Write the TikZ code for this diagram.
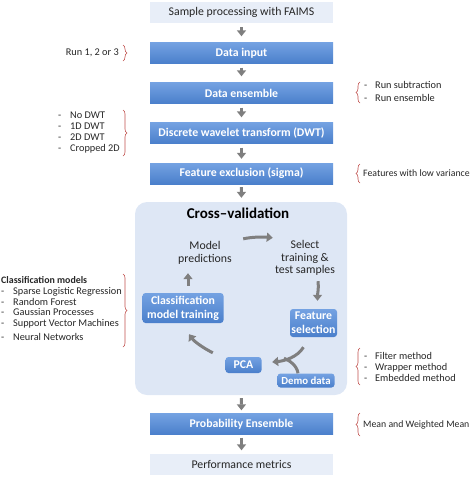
\documentclass[tikz,border=0pt]{standalone}
\usepackage{fontspec}
\setmainfont{Carlito}
\usetikzlibrary{arrows.meta,decorations.pathreplacing}

\definecolor{boxlight}{HTML}{E8EEF8}
\definecolor{cvfill}{HTML}{DEE7F5}
\definecolor{boxtop}{HTML}{74A2E2}
\definecolor{boxbot}{HTML}{4A7FCB}
\definecolor{flowgray}{HTML}{7F7F7F}
\definecolor{bracered}{HTML}{C0504D}
\definecolor{txt}{HTML}{262626}

\tikzset{
  mainbox/.style={minimum width=183pt, minimum height=21pt, inner sep=0pt, font=\fontsize{11.8}{13}\selectfont},
  lightbox/.style={mainbox, fill=boxlight, text=txt},
  bluebox/.style={mainbox, top color=boxtop, bottom color=boxbot, text=white, font=\fontsize{11.8}{13}\selectfont\bfseries},
  smallbox/.style={rounded corners=3pt, top color=boxtop, bottom color=boxbot, text=white, inner sep=0pt, align=center, font=\fontsize{11.8}{13.8}\selectfont\bfseries},
  flow/.style={draw=flowgray, line width=3pt, -{Triangle[length=6pt,width=9pt]}},
  brace/.style={draw=bracered, line width=0.6pt, decorate, decoration={brace, amplitude=4pt}},
  side/.style={inner sep=0pt, text=txt, font=\fontsize{10.3}{12}\selectfont, text height=7.5pt, text depth=2.5pt},
  cvtext/.style={inner sep=0pt, text=txt, align=center, font=\fontsize{11.8}{12.8}\selectfont},
}

\begin{document}
\begin{tikzpicture}[x=1pt, y=-1pt]
        \useasboundingbox (0,0) rectangle (474,477);
        % main pipeline
        \node[lightbox] (sample)   at (241.5, 12.5) {Sample processing with FAIMS};
        \node[bluebox]  (input)    at (241.5, 53)   {Data input};
        \node[bluebox]  (ensemble) at (241.5, 93)   {Data ensemble};
        \node[bluebox]  (dwt)      at (241.5, 133)  {Discrete wavelet transform (DWT)};
        \node[bluebox]  (excl)     at (241.5, 173.5) {Feature exclusion (sigma)};
        \node[fill=cvfill, rounded corners=12pt, minimum width=212pt, minimum height=193pt] (cv) at (241, 298.5) {};
        \node[bluebox]  (prob)     at (241.5, 424)  {Probability Ensemble};
        \node[lightbox] (perf)     at (241.5, 464)  {Performance metrics};
        % arrows
        \draw[flow, shorten <=4pt, shorten >=6pt] (sample) -- (input);
        \draw[flow, shorten <=4pt, shorten >=6pt] (input) -- (ensemble);
        \draw[flow, shorten <=4pt, shorten >=5pt] (ensemble) -- (dwt);
        \draw[flow, shorten <=4pt, shorten >=4pt] (dwt) -- (excl);
        \draw[flow, shorten <=3pt, shorten >=4pt] (excl) -- (cv);
        \draw[flow, shorten <=3pt, shorten >=3pt] (cv) -- (prob);
        \draw[flow, shorten <=3pt, shorten >=3pt] (prob) -- (perf);

        % cross-validation loop
        \node[font=\fontsize{15}{17}\selectfont\bfseries, text=black] (cvtitle) at (238, 213) {Cross--validation};
        \node[cvtext, minimum width=62pt, minimum height=26pt] (pred) at (205, 253) {Model\\predictions};
        \node[cvtext, minimum width=72pt, minimum height=40pt] (select) at (305, 258) {Select\\training \&\\test samples};
        \node[smallbox, minimum width=47pt, minimum height=28pt] (feat) at (313.5, 323) {Feature\\selection};
        \node[smallbox, minimum width=81pt, minimum height=30pt] (train) at (183, 308) {Classification\\model training};
        \node[smallbox, minimum width=36pt, minimum height=16pt] (pca) at (243.5, 365) {PCA};
        \node[smallbox, minimum width=57pt, minimum height=14pt, font=\fontsize{10.8}{12}\selectfont\bfseries] (demo) at (306, 380.5) {Demo data};
        \draw[flow] ([xshift=7pt, yshift=1pt]pred.north east) .. controls +(10,-2) and +(-10,-1) .. ([xshift=4pt]select.north west);
        \draw[flow] ([xshift=13pt, yshift=-3pt]select.south) .. controls +(1,7) and +(0,-7) .. ([xshift=4pt, yshift=8pt]feat.north);
        \draw[draw=flowgray, line width=3pt] ([xshift=-8pt]demo.north) .. controls +(-1,-8) and +(5,2) .. ([xshift=-29.5pt, yshift=-21pt]feat.south);
        \draw[flow] ([xshift=-10pt, yshift=-10pt]feat.south) .. controls +(-6,10) and +(12,-1) .. ([xshift=10.5pt, yshift=3pt]pca.east);
        \draw[flow] ([xshift=-12.5pt, yshift=4pt]pca.north west) .. controls +(-10,-5) and +(5,7) .. ([xshift=6pt, yshift=-11pt]train.south);
        \draw[flow] ([xshift=5pt, yshift=7pt]train.north) -- ([xshift=-17pt, yshift=-7pt]pred.south);

        % left notes
        \node[side, anchor=east] (runs) at (119, 53) {Run 1, 2 or 3};
        \draw[brace] (123, 45) -- (123, 61);
        \foreach \y/\t [count=\i] in {116/No DWT, 127/1D DWT, 138/2D DWT, 149/Cropped 2D}
            \node[side, anchor=west] (dwtopt\i) at (58, \y) {\makebox[12pt][l]{-}\t};
        \draw[brace] (123, 110) -- (123, 156);
        \node[side, anchor=west, font=\fontsize{9.9}{11}\selectfont\bfseries] (clshead) at (1, 281) {Classification models};
        \foreach \y/\t [count=\i] in {292/Sparse Logistic Regression, 303/Random Forest, 313/Gaussian Processes, 324/Support Vector Machines, 338/Neural Networks}
            \node[side, anchor=west] (cls\i) at (1, \y) {\makebox[12pt][l]{-}\t};
        \draw[brace] (123, 274) -- (123, 347);

        % right notes
        \draw[brace] (360, 103) -- (360, 82);
        \node[side, anchor=west] (ens1) at (364, 86) {\makebox[11pt][l]{-}Run subtraction};
        \node[side, anchor=west] (ens2) at (364, 99) {\makebox[11pt][l]{-}Run ensemble};
        \draw[brace] (360, 183) -- (360, 164);
        \node[side, anchor=west, font=\fontsize{9.8}{12}\selectfont] (lowvar) at (363, 174) {Features with low variance};
        \draw[brace] (360, 385) -- (360, 348);
        \foreach \y/\t [count=\i] in {357/Filter method, 368/Wrapper method, 379/Embedded method}
            \node[side, anchor=west] (fsel\i) at (364, \y) {\makebox[11pt][l]{-}\t};
        \draw[brace] (360, 436) -- (360, 413);
        \node[side, anchor=west, font=\fontsize{9.8}{12}\selectfont] (wmean) at (363, 425) {Mean and Weighted Mean};
\end{tikzpicture}
\end{document}
